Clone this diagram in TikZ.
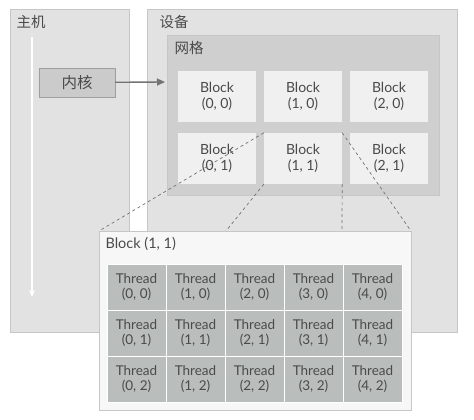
\documentclass[tikz,border=0pt]{standalone}
\usepackage{fontspec}
\setmainfont{Lato}
\newfontfamily\cjk{Noto Sans CJK SC}
\usetikzlibrary{arrows.meta}
\definecolor{txt}{HTML}{4A4A4A}
\definecolor{hostbg}{HTML}{E2E2E2}
\definecolor{panelline}{HTML}{C6C6C6}
\definecolor{gridbg}{HTML}{CFCFCF}
\definecolor{blockbg}{HTML}{F0F0F0}
\definecolor{kernelbg}{HTML}{CBCBCB}
\definecolor{threadbg}{HTML}{B9BDBC}
\definecolor{arrowgray}{HTML}{737373}
\begin{document}
\begin{tikzpicture}[x=1pt,y=-1pt,
	panelbox/.style={draw=panelline, fill=hostbg, line width=0.8pt},
	title/.style={anchor=west, text=txt, font=\cjk\fontsize{14.5}{16}\selectfont},
	blockbox/.style={fill=blockbg, minimum width=78pt, minimum height=51pt,
		text=txt, align=center, inner sep=0pt, font=\fontsize{14}{16}\selectfont},
	threadbox/.style={fill=threadbg, draw=white, line width=0.8pt,
		minimum width=59pt, minimum height=46pt, text=txt, align=center,
		inner sep=0pt, font=\fontsize{13.5}{15}\selectfont},
	zoomline/.style={draw=arrowgray, dashed, line width=0.7pt}]
	\useasboundingbox (0,0) rectangle (474,420);

	% host and device
	\draw[panelbox] (10,9) rectangle (129,332);
	\draw[panelbox] (147,9) rectangle (457,332);
	\node[title] (host) at (13,22) {主机};
	\node[title] (device) at (156,22) {设备};
	\draw[white, line width=1.6pt, -{Stealth[length=7pt,width=6pt]}] (32,37) -- (32,297);

	% grid
	\draw[draw=panelline, fill=gridbg, line width=0.8pt] (167,35) rectangle (439,195);
	\coordinate (grid-w) at (165,82);
	\node[title] (grid) at (171,48) {网格};
	\foreach \i in {0,1,2}
		\foreach \j in {0,1}
			\node[blockbox] (b-\i-\j) at (217+86*\i,96.5+62*\j) {Block\\(\i, \j)};

	% kernel
	\node[fill=kernelbg, draw=panelline!80!black, minimum width=76pt, minimum height=29pt,
		text=txt, font=\cjk\fontsize{15.5}{17}\selectfont] (kernel) at (77,82.5) {内核};
	\draw[arrowgray, line width=1.4pt, -{Triangle[length=8pt,width=7pt]}] (kernel) -- (grid-w);

	% zoom of block (1, 1)
	\coordinate (p-nw) at (99,231);
	\coordinate (p-ne) at (411,231);
	\coordinate (p-se) at (411,410);
	\coordinate (p-bl) at (226,231);
	\coordinate (p-br) at (342,231);
	\draw[zoomline] (b-1-1.north west) -- (p-nw);
	\draw[zoomline] (b-1-1.north east) -- (p-ne);
	\draw[zoomline] (b-1-1.south west) -- (p-bl);
	\draw[zoomline] (b-1-1.south east) -- (p-br);
	\draw[draw=panelline, fill=blockbg!95!black!30!white, line width=0.8pt] (p-nw) rectangle (p-se);
	\node[anchor=west, text=txt, font=\fontsize{14.5}{16}\selectfont] (zoom) at (102,244) {Block (1, 1)};
	\foreach \i in {0,...,4}
		\foreach \j in {0,1,2}
			\node[threadbox] (t-\i-\j) at (136.5+59*\i,287+46*\j) {Thread\\(\i, \j)};
\end{tikzpicture}
\end{document}
